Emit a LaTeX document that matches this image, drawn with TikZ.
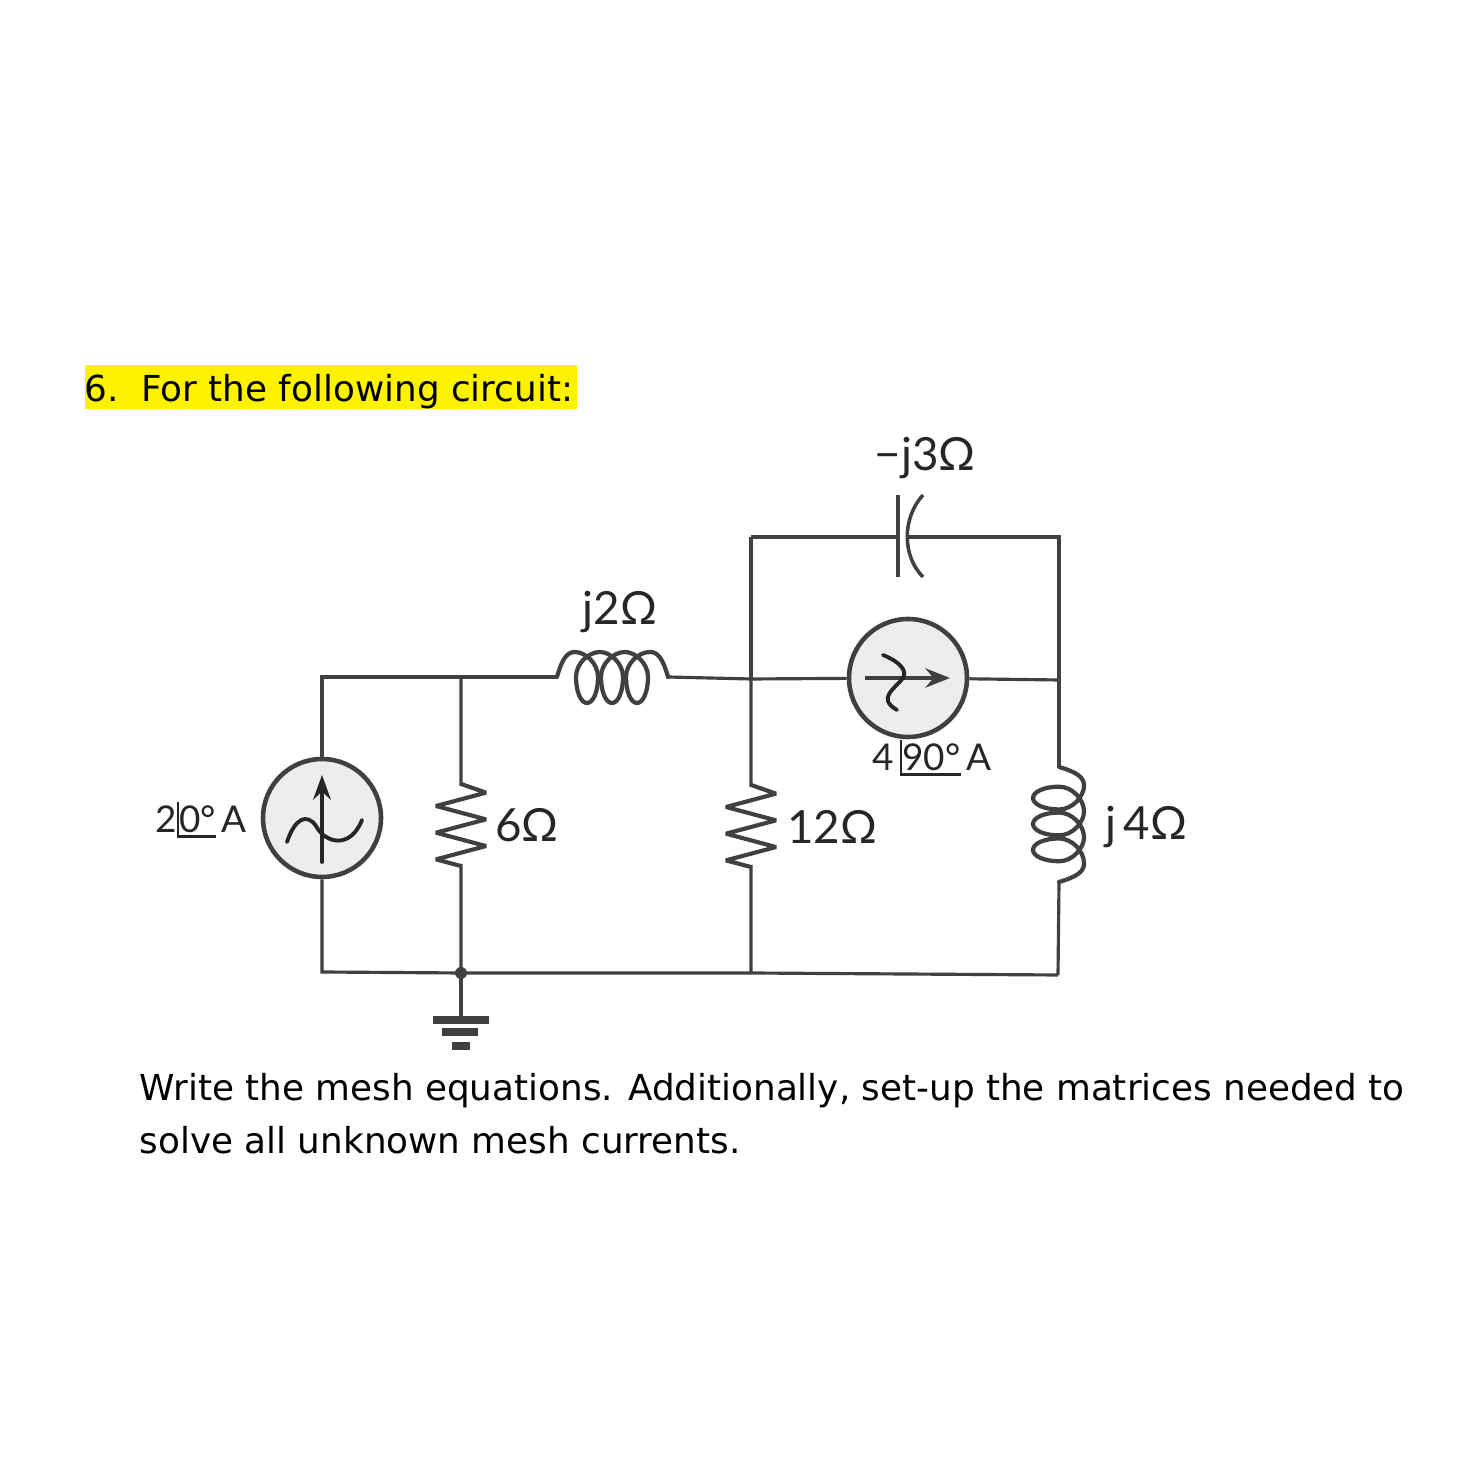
\documentclass[tikz,border=0pt]{standalone}
\usepackage{fontspec}
\setmainfont{DejaVu Sans}
\newfontfamily\handfont{Lato}
\usepackage[siunitx]{circuitikz}

\ctikzset{bipoles/length=1cm, bipoles/thickness=1.3, resistors/width=.78, resistors/zigs=3, bipoles/resistor/height=.5}
\tikzset{
  wire/.style={line width=.9pt, color=black!75},
  coilstroke/.style={line width=1.2pt, color=black!75, line cap=round},
  coilpic/.pic={
    \draw[coilstroke] (0,0) .. controls (.05,.18) and (.10,.25) .. (.18,.25);
    \foreach \n in {0,.25,.5}{
      \draw[coilstroke,xshift=\n cm] (.18,.25) .. controls (.28,.25) and (.41,.14) .. (.41,0) .. controls (.41,-.15) and (.36,-.26) .. (.30,-.26) .. controls (.24,-.26) and (.19,-.15) .. (.19,0) .. controls (.19,.13) and (.31,.25) .. (.43,.25);
    }
    \draw[coilstroke] (.93,.25) .. controls (1.01,.25) and (1.06,.18) .. (1.11,0);
  },
  srcnode/.style={circle, draw=black!75, line width=1.3pt, fill=black!7, minimum size=1.18cm, inner sep=0pt},
  handlabel/.style={font=\handfont\fontsize{13}{15}\selectfont, color=black!85, inner sep=0pt},
  phasorlabel/.style={font=\handfont\fontsize{10.5}{12}\selectfont, color=black!85, inner sep=0pt},
  pagetext/.style={font=\fontsize{10.18}{14.4}\selectfont, inner sep=0pt, anchor=west},
  pen/.style={line width=1.1pt, color=black!85, line cap=round},
  groundbar/.style={line width=2pt, color=black!75},
}
\newsavebox{\phasorsave}
\newcommand{\phasorbox}[1]{\sbox{\phasorsave}{#1}\rule[-1.5pt]{.7pt}{1.9ex}\rlap{\rule[-1.5pt]{\wd\phasorsave}{.7pt}}\usebox{\phasorsave}}

\begin{document}
\begin{tikzpicture}
\useasboundingbox (0,0) rectangle (14.78,14.78);

\node[fill=yellow, minimum width=4.92cm, minimum height=.44cm, anchor=west, inner sep=0pt, font=\fontsize{10.18}{12}\selectfont] (title) at (.84,10.91) {\raisebox{-4.1pt}[0pt][0pt]{\makebox[4.92cm][l]{6.\ \ For the following circuit:}}};

\coordinate (nw) at (3.22,8.01);
\coordinate (sw) at (3.22,5.06);
\coordinate (midtop) at (4.61,8.01);
\coordinate (midbot) at (4.61,5.05);
\coordinate (coila) at (5.57,8.01);
\coordinate (coilb) at (6.68,8.01);
\coordinate (cross) at (7.51,7.99);
\coordinate (crosstop) at (7.51,9.41);
\coordinate (crossbot) at (7.51,5.05);
\coordinate (capl) at (8.98,9.41);
\coordinate (capr) at (9.08,9.41);
\coordinate (etop) at (10.59,9.41);
\coordinate (emid) at (10.59,7.98);
\coordinate (coilc) at (10.59,7.11);
\coordinate (coild) at (10.59,5.96);
\coordinate (ebot) at (10.58,5.03);
\coordinate (gnd) at (4.61,4.58);

\node[srcnode] (srcleft) at (3.22,6.60) {};
\node[srcnode] (srcright) at (9.08,8.00) {};

\draw[wire] (srcleft) -- (nw) -- (midtop) -- (coila);
\draw[wire] (srcleft) -- (sw) -- (midbot);
\draw[wire] (midtop) to[R] (midbot);
\pic at (coila) {coilpic};
\draw[wire] (coilb) -- (cross) -- (srcright) -- (emid);
\draw[wire] (crosstop) -- (cross);
\draw[wire] (cross) to[R] (crossbot);
\draw[wire] (crosstop) -- (capl);
\draw[wire] (capr) -- (etop) -- (emid) -- (coilc);
\pic[rotate=-90, xscale=1.036] at (coilc) {coilpic};
\draw[wire] (coild) -- (ebot);
\draw[wire] (midbot) -- (crossbot) -- (ebot);
\draw[wire] (midbot) -- (gnd);
\fill[black!75] (midbot) circle (.06);

% capacitor plates
\draw[wire, line width=1pt] (8.98,9.83) -- (8.98,9.01);
\draw[wire, line width=1pt] (9.23,9.83) .. controls (9.02,9.60) and (9.02,9.22) .. (9.23,9.01);

\draw[groundbar] (4.33,4.58) -- (4.89,4.58);
\draw[groundbar] (4.42,4.46) -- (4.78,4.46);
\draw[groundbar] (4.52,4.32) -- (4.70,4.32);

% source marks
\draw[pen, -{Stealth[length=7pt,width=5pt]}] (3.22,6.16) -- (3.22,7.03);
\draw[pen] (2.87,6.36) .. controls (2.95,6.60) and (3.07,6.65) .. (3.16,6.52) .. controls (3.25,6.35) and (3.50,6.28) .. (3.62,6.58);
\draw[wire, -{Stealth[length=7pt,width=5.5pt]}] (8.65,8.00) -- (9.50,8.00);
\draw[pen] (8.83,8.23) .. controls (8.98,8.17) and (9.08,8.08) .. (9.03,8.00) .. controls (8.96,7.90) and (8.76,7.80) .. (8.97,7.68);

\node[phasorlabel] (lblsrcleft) at (2.01,6.58) {2\phasorbox{0°}\,A};
\node[handlabel] (lblsix) at (5.27,6.53) {6Ω};
\node[handlabel] (lbltwelve) at (8.32,6.51) {12Ω};
\node[handlabel] (lblleft) at (6.20,8.66) {j2Ω};
\node[handlabel] (lblcap) at (9.25,10.20) {−j3Ω};
\node[handlabel] (lblright) at (11.46,6.51) {j\,4Ω};
\node[phasorlabel] (lblsrcright) at (9.32,7.20) {4\,\phasorbox{90°}\,A};

\node[pagetext] (para1) at (1.39,3.87) {Write the mesh equations. Additionally, set-up the matrices needed to};
\node[pagetext] (para2) at (1.39,3.38) {solve all unknown mesh currents.};
\end{tikzpicture}
\end{document}
